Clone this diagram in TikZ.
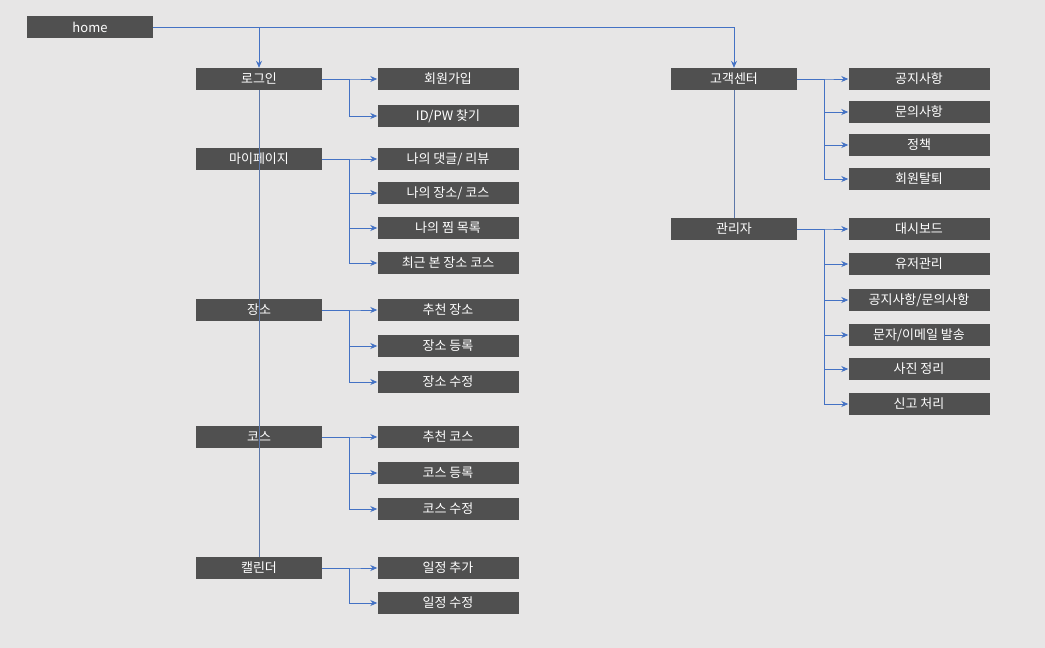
\documentclass[tikz,border=0pt]{standalone}
\usepackage{fontspec}
\setmainfont{Noto Sans CJK KR}
\usetikzlibrary{arrows.meta}
\definecolor{boxgray}{HTML}{505050}
\definecolor{linkblue}{HTML}{4472C4}
\definecolor{bggray}{HTML}{E7E6E6}
\tikzset{
  page/.style={fill=boxgray,text=white,minimum height=22pt,inner sep=0pt,font=\fontsize{13}{15}\selectfont},
  main/.style={page,minimum width=126pt},
  sub/.style={page,minimum width=141pt},
  link/.style={draw=linkblue,line width=0.9pt,-{Stealth[length=7pt,width=6pt]}},
  trunk/.style={draw=linkblue!60!gray,line width=0.9pt}
}
\begin{document}
\begin{tikzpicture}[x=1pt,y=-1pt]
  \fill[bggray] (0,0) rectangle (1045,648);
  \useasboundingbox (0,0) rectangle (1045,648);

  \node[main] (home) at (90,27) {home};

  % left column
  \node[main] (login) at (259,79) {로그인};
  \node[main] (mypage) at (259,159) {마이페이지};
  \node[main] (place) at (259,310) {장소};
  \node[main] (course) at (259,437) {코스};
  \node[main] (cal) at (259,568) {캘린더};

  \node[sub] (join) at (448,79) {회원가입};
  \node[sub] (findid) at (448,116) {ID/PW 찾기};
  \node[sub] (myrev) at (448,159) {나의 댓글/ 리뷰};
  \node[sub] (myplace) at (448,193) {나의 장소/ 코스};
  \node[sub] (mylike) at (448,228) {나의 찜 목록};
  \node[sub] (recent) at (448,263) {최근 본 장소 코스};
  \node[sub] (recplace) at (448,310) {추천 장소};
  \node[sub] (addplace) at (448,346) {장소 등록};
  \node[sub] (editplace) at (448,382) {장소 수정};
  \node[sub] (reccourse) at (448,437) {추천 코스};
  \node[sub] (addcourse) at (448,473) {코스 등록};
  \node[sub] (editcourse) at (448,509) {코스 수정};
  \node[sub] (addsched) at (448,568) {일정 추가};
  \node[sub] (editsched) at (448,603) {일정 수정};

  % right column
  \node[main] (help) at (734,79) {고객센터};
  \node[main] (admin) at (734,229) {관리자};

  \node[sub] (notice) at (919,79) {공지사항};
  \node[sub] (qna) at (919,112) {문의사항};
  \node[sub] (policy) at (919,145) {정책};
  \node[sub] (leave) at (919,179) {회원탈퇴};
  \node[sub] (dash) at (919,229) {대시보드};
  \node[sub] (users) at (919,264) {유저관리};
  \node[sub] (board) at (919,300) {공지사항/문의사항};
  \node[sub] (sms) at (919,335) {문자/이메일 발송};
  \node[sub] (photo) at (919,369) {사진 정리};
  \node[sub] (report) at (919,404) {신고 처리};

  % home links
  \draw[link] (home.east) -| (help.north);
  \draw[link] (home.east -| login.north) -- (login.north);
  \draw[trunk] (login.south) -- (cal.north);
  \draw[trunk] (help.south) -- (admin.north);

  % sub links
  \foreach \p/\list in {login/{join,findid}, mypage/{myrev,myplace,mylike,recent},
      place/{recplace,addplace,editplace}, course/{reccourse,addcourse,editcourse},
      cal/{addsched,editsched}, help/{notice,qna,policy,leave},
      admin/{dash,users,board,sms,photo,report}}
    \foreach \c in \list
      \draw[link] (\p.east) -- ++(27,0) |- (\c.west);
\end{tikzpicture}
\end{document}
